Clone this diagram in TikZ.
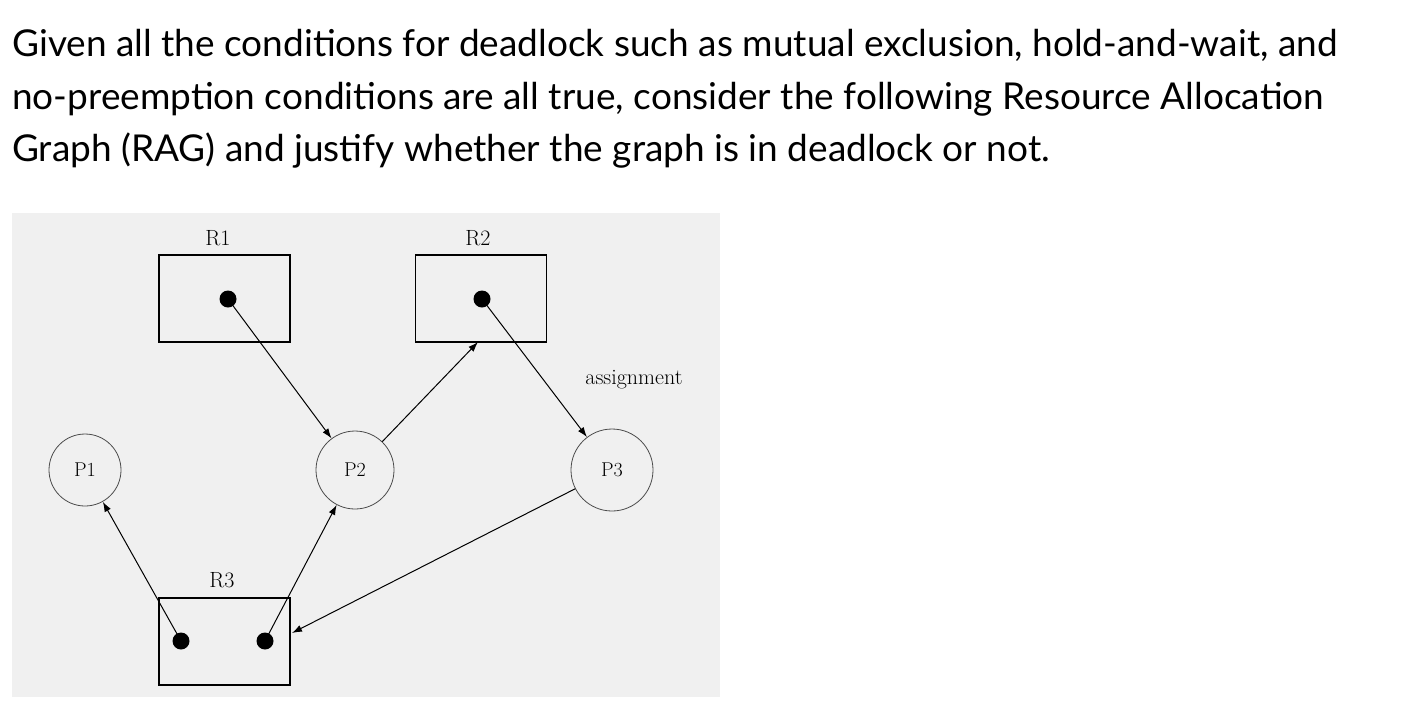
\documentclass[tikz,border=0pt]{standalone}
\usetikzlibrary{arrows.meta}
\usepackage{fontspec}
\setmainfont{Lato}
\newfontfamily\diag{Latin Modern Roman}
\begin{document}
\begin{tikzpicture}[x=1pt,y=-1pt,
  res/.style={draw,line width=1.5pt,minimum width=131pt,minimum height=87pt,inner sep=0},
  proc/.style={draw,circle,line width=0.8pt,draw=black!70,minimum size=#1,inner sep=0,font=\diag\fontsize{20}{20}\selectfont},
  dot/.style={circle,fill=black,minimum size=17pt,inner sep=0},
  lab/.style={font=\diag\fontsize{22}{22}\selectfont},
  edge/.style={line width=1pt,-{Latex[length=10pt,width=7pt]}}]
\useasboundingbox (0,0) rectangle (1404,716);
\fill[white] (0,0) rectangle (1404,716);
\fill[gray!12] (12,213) rectangle (720,697);
\node[anchor=west,align=left,font=\fontsize{37}{52.5}\selectfont,inner sep=0] (q) at (12,99)
{Given all the conditions for deadlock such as mutual exclusion, hold-and-wait, and\\
no-preemption conditions are all true, consider the following Resource Allocation\\
Graph (RAG) and justify whether the graph is in deadlock or not.};
\node[res] (R1) at (224.5,298.5) {};
\node[res] (R2) at (481,298.5) {};
\node[res] (R3) at (224.5,641.5) {};
\node[dot] (d1) at (228,299) {};
\node[dot] (d2) at (482,299) {};
\node[dot] (d3) at (181,641) {};
\node[dot] (d4) at (265,641) {};
\node[proc=72pt] (P1) at (85,470) {P1};
\node[proc=78pt] (P2) at (355,470) {P2};
\node[proc=82pt] (P3) at (612,470) {P3};
\node[lab] (l1) at (218,238) {R1};
\node[lab] (l2) at (478,238) {R2};
\node[lab] (l3) at (222,580) {R3};
\node[lab] (la) at (634,380) {assignment};
\coordinate (r2b) at (478,342);
\coordinate (r3r) at (292,633);
\draw[edge] (d1.center) -- (P2);
\draw[edge] (P2) -- (r2b);
\draw[edge] (d2.center) -- (P3);
\draw[edge] (d3.center) -- (P1);
\draw[edge] (d4.center) -- (P2);
\draw[edge] (P3) -- (r3r);
\end{tikzpicture}
\end{document}
